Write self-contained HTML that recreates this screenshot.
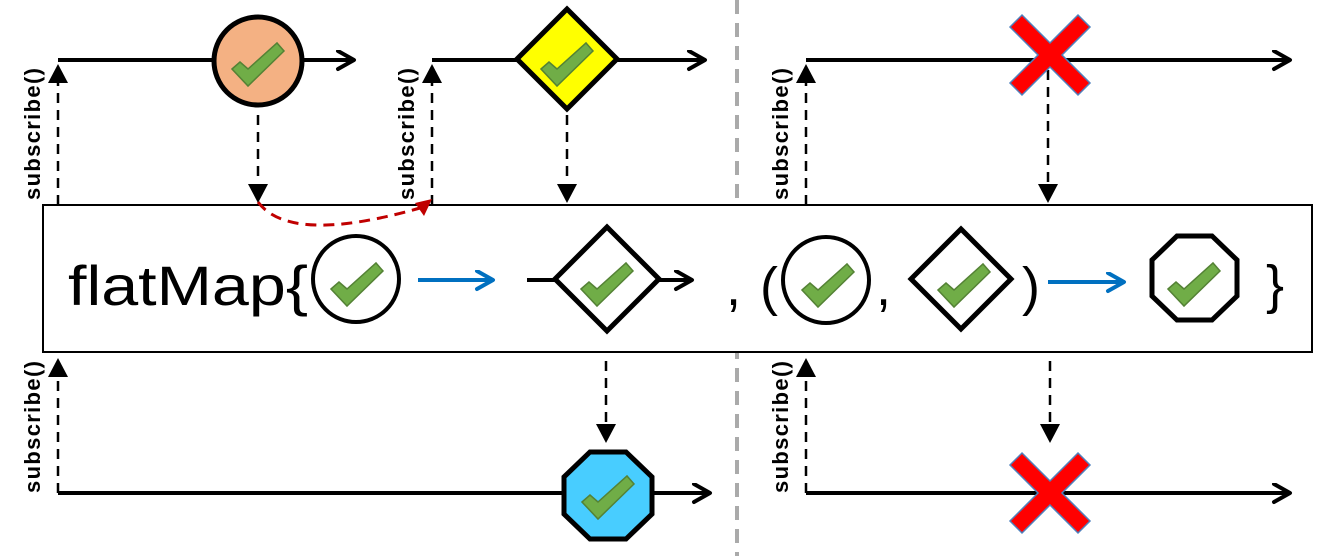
<!DOCTYPE html>
<html><head><meta charset="utf-8"><style>
html,body{margin:0;padding:0;background:#fff}
svg{display:block}
text{font-family:"Liberation Sans",sans-serif}
</style></head><body>
<svg width="1328" height="556" viewBox="0 0 1328 556" xmlns="http://www.w3.org/2000/svg">
<defs>
<polygon id="chk" points="-26,8 -18,1 -10,8 19,-18 26,-10 -10,25" fill="#70ad47" stroke="#548235" stroke-width="1.5"/>
<marker id="ah" markerWidth="24" markerHeight="24" refX="20" refY="10" orient="auto" markerUnits="userSpaceOnUse"><path d="M4,1 L20,10 L4,19" fill="none" stroke="#000" stroke-width="4" stroke-linecap="round" stroke-linejoin="round"/></marker>
<marker id="ahb" markerWidth="24" markerHeight="24" refX="20" refY="10" orient="auto" markerUnits="userSpaceOnUse"><path d="M4,1 L20,10 L4,19" fill="none" stroke="#0070c0" stroke-width="4" stroke-linecap="round" stroke-linejoin="round"/></marker>
<g id="xx"><path d="M-40,-28 L-28,-40 L0,-12 L28,-40 L40,-28 L12,0 L40,28 L28,40 L0,12 L-28,40 L-40,28 L-12,0 Z" fill="#ff0000" stroke="#4f81bd" stroke-width="1.5"/></g>
</defs>
<line x1="737" y1="0" x2="737" y2="556" stroke="#aaa" stroke-width="4" stroke-dasharray="14,9"/>
<rect x="43" y="205" width="1269" height="147" fill="#fff" stroke="#000" stroke-width="2"/>
<g stroke="#000" stroke-width="4" fill="none">
<line x1="58" y1="60" x2="354" y2="60" marker-end="url(#ah)"/>
<line x1="432" y1="60" x2="705" y2="60" marker-end="url(#ah)"/>
<line x1="806" y1="60" x2="1290" y2="60" marker-end="url(#ah)"/>
<line x1="58" y1="493" x2="710" y2="493" marker-end="url(#ah)"/>
<line x1="806" y1="493" x2="1290" y2="493" marker-end="url(#ah)"/>
<line x1="527" y1="280" x2="692" y2="280" marker-end="url(#ah)"/>
</g>
<g stroke="#000" stroke-width="2.5" stroke-dasharray="10,7">
<line x1="58" y1="205" x2="58" y2="82"/>
<line x1="432" y1="205" x2="432" y2="82"/>
<line x1="806" y1="205" x2="806" y2="82"/>
<line x1="58" y1="493" x2="58" y2="377"/>
<line x1="806" y1="493" x2="806" y2="377"/>
<line x1="258" y1="115" x2="258" y2="182"/>
<line x1="567" y1="115" x2="567" y2="182"/>
<line x1="1048" y1="70" x2="1048" y2="182"/>
<line x1="606" y1="361" x2="606" y2="422"/>
<line x1="1050" y1="361" x2="1050" y2="422"/>
</g>
<g fill="#000">
<polygon points="48,83 68,83 58,64"/>
<polygon points="422,83 442,83 432,64"/>
<polygon points="796,83 816,83 806,64"/>
<polygon points="48,377 68,377 58,358"/>
<polygon points="796,377 816,377 806,358"/>
<polygon points="248,184 268,184 258,203"/>
<polygon points="557,184 577,184 567,203"/>
<polygon points="1038,184 1058,184 1048,203"/>
<polygon points="596,424 616,424 606,443"/>
<polygon points="1040,424 1060,424 1050,443"/>
</g>
<g font-weight="bold" font-size="22" fill="#000">
<text transform="translate(40,200) rotate(-90)" textLength="132">subscribe()</text>
<text transform="translate(414,200) rotate(-90)" textLength="132">subscribe()</text>
<text transform="translate(788,200) rotate(-90)" textLength="132">subscribe()</text>
<text transform="translate(40,493) rotate(-90)" textLength="132">subscribe()</text>
<text transform="translate(788,493) rotate(-90)" textLength="132">subscribe()</text>
</g>
<path d="M258,202 Q290,245 420,208" fill="none" stroke="#c00000" stroke-width="3" stroke-dasharray="11,7"/>
<polygon points="432,199 415,203 424,216" fill="#c00000"/>
<circle cx="258" cy="61" r="44" fill="#f4b183" stroke="#000" stroke-width="5"/>
<use href="#chk" x="258" y="61"/>
<polygon points="567,9 617,59 567,109 517,59" fill="#ffff00" stroke="#000" stroke-width="5"/>
<use href="#chk" x="567" y="61"/>
<use href="#xx" x="1050" y="55"/>
<text x="68" y="305" font-size="56" fill="#000" textLength="240" lengthAdjust="spacingAndGlyphs">flatMap{</text>
<circle cx="356" cy="279" r="43" fill="#fff" stroke="#000" stroke-width="4"/>
<use href="#chk" x="357" y="281"/>
<line x1="418" y1="280" x2="493" y2="280" stroke="#0070c0" stroke-width="4" marker-end="url(#ahb)"/>
<polygon points="607,227 659,279 607,331 555,279" fill="#fff" stroke="#000" stroke-width="5"/>
<use href="#chk" x="607" y="281"/>
<text x="726" y="305" font-size="54" fill="#000">,</text>
<text x="760" y="305" font-size="54" fill="#000">(</text>
<circle cx="826" cy="280" r="43" fill="#fff" stroke="#000" stroke-width="4"/>
<use href="#chk" x="828" y="282"/>
<text x="876" y="305" font-size="54" fill="#000">,</text>
<polygon points="961,229 1011,279 961,329 911,279" fill="#fff" stroke="#000" stroke-width="5"/>
<use href="#chk" x="964" y="282"/>
<text x="1022" y="305" font-size="54" fill="#000">)</text>
<line x1="1048" y1="282" x2="1124" y2="282" stroke="#0070c0" stroke-width="4" marker-end="url(#ahb)"/>
<polygon points="1177,236 1212,236 1237,260 1237,296 1212,320 1177,320 1152,296 1152,260" fill="#fff" stroke="#000" stroke-width="5"/>
<use href="#chk" x="1194" y="281"/>
<text x="1266" y="303" font-size="54" fill="#000">}</text>
<polygon points="590,452 626,452 652,477 652,514 626,539 590,539 564,514 564,477" fill="#48cdff" stroke="#000" stroke-width="5"/>
<use href="#chk" x="608" y="494"/>
<use href="#xx" x="1050" y="493"/>
</svg>
</body></html>
